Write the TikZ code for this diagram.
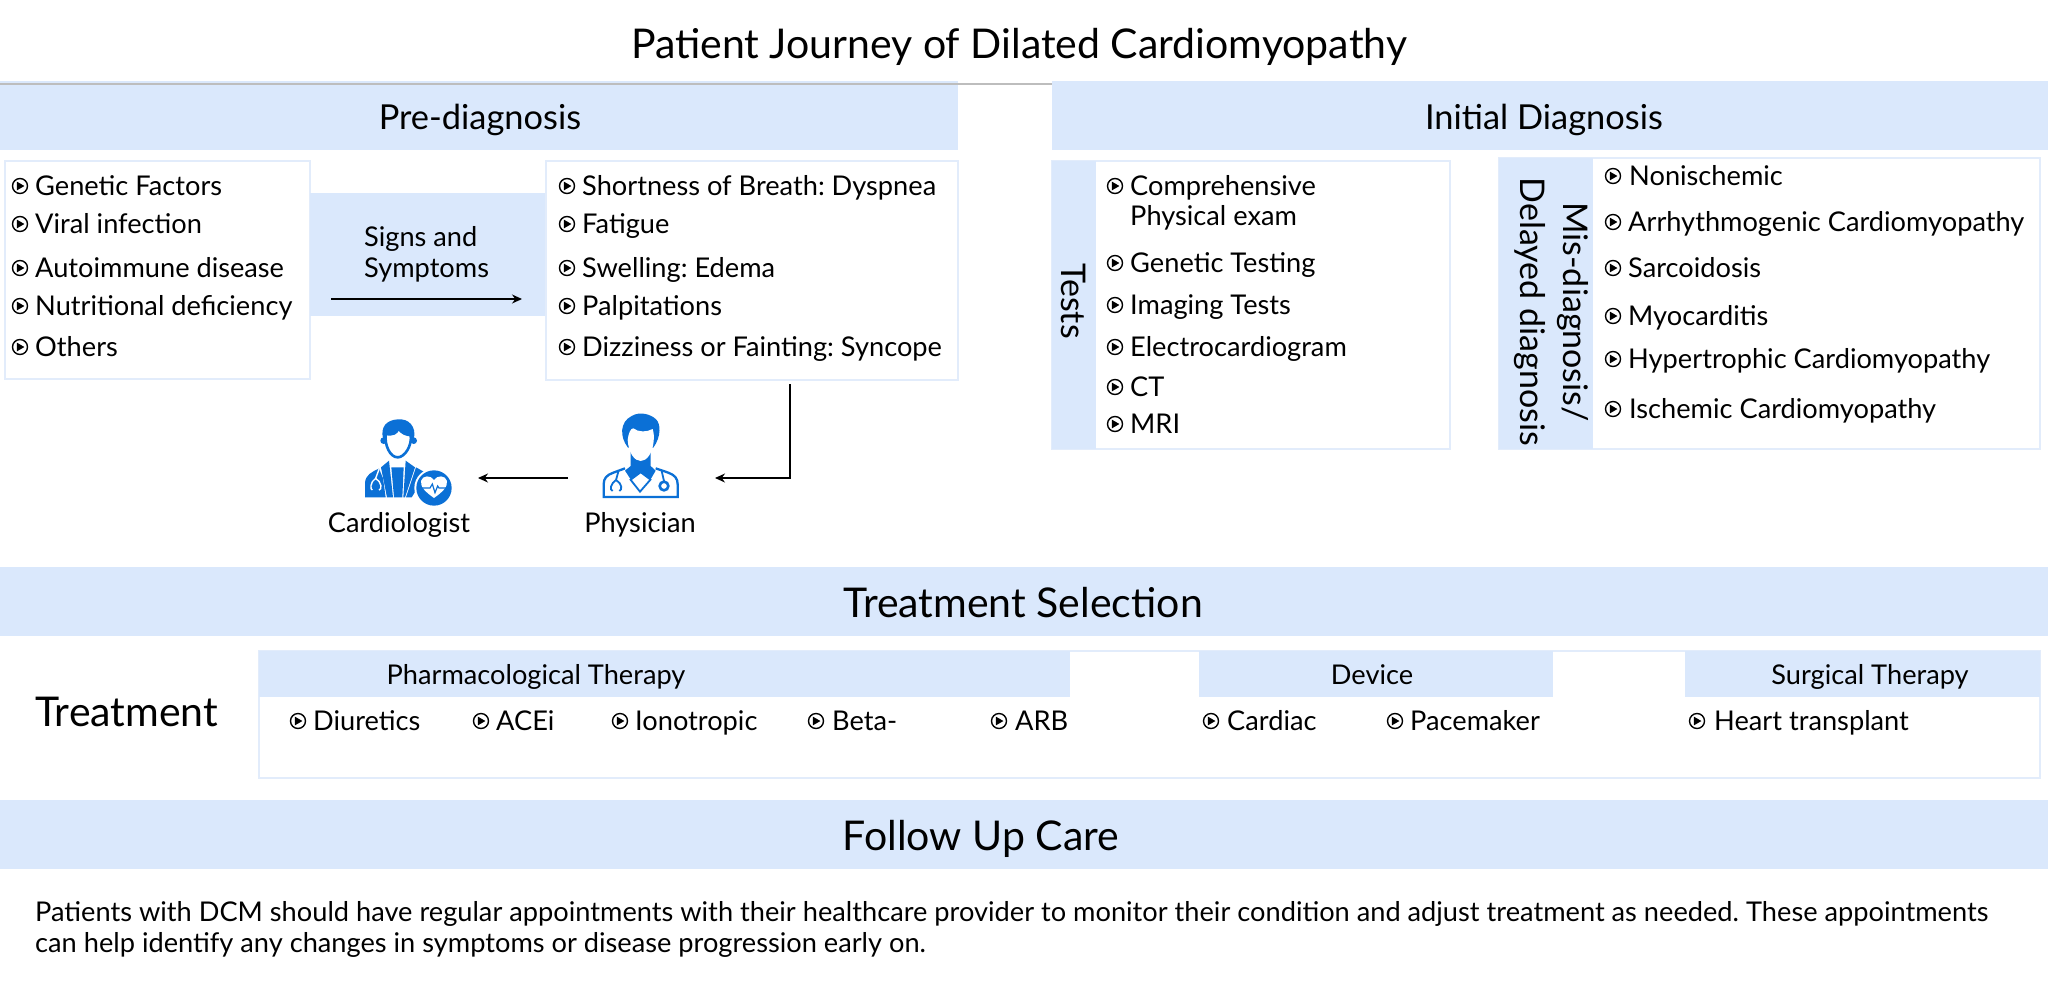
\documentclass[tikz,border=0pt]{standalone}
\usepackage{fontspec}
\setmainfont{Lato}
\usetikzlibrary{arrows.meta,calc}
\definecolor{band}{HTML}{DAE8FC}
\definecolor{edge}{HTML}{E2ECFB}
\definecolor{iconblue}{HTML}{0B70D6}
\definecolor{rule}{HTML}{BDBDBD}
\newcommand{\rbox}[6]{\node[#1,anchor=north west,minimum width=#5pt-#3pt,minimum height=#6pt-#4pt] (#2) at (#3,#4) {};}
\newcommand{\itm}[5]{%
  \node[bulletdot] (#1b) at (#2,#3) {};
  \fill ($(#2,#3)+(-3.2,-4.4)$) -- ($(#2,#3)+(4.4,0)$) -- ($(#2,#3)+(-3.2,4.4)$) -- cycle;
  \node[itemtext] (#1) at (#4,#3) {#5};}
\tikzset{
  fillband/.style={fill=band,draw=none,inner sep=0pt,outer sep=0pt},
  panel/.style={fill=white,draw=edge,line width=1.3pt,inner sep=0pt,outer sep=0pt},
  bulletdot/.style={circle,draw=black,fill=white,line width=1.4pt,minimum size=15pt,inner sep=0pt},
  itemtext/.style={anchor=mid west,inner sep=0pt,yshift=-7pt,font=\fontsize{27.2}{32}\selectfont},
  headtext/.style={anchor=mid,inner sep=0pt,yshift=-10pt,font=\fontsize{34.4}{41}\selectfont},
  bigtext/.style={anchor=mid,inner sep=0pt,yshift=-11.5pt,font=\fontsize{41}{49}\selectfont},
  subtext/.style={anchor=mid,inner sep=0pt,yshift=-7pt,font=\fontsize{27.2}{32}\selectfont},
  conn/.style={draw=black,line width=1.2pt,-{Stealth[length=10pt,width=9pt]}},
}
\begin{document}
\frenchspacing
\begin{tikzpicture}[x=1pt,y=-1pt]
\useasboundingbox (0,0) rectangle (2048,986);
\fill[white] (0,0) rectangle (2048,986);
% title
\node[bigtext] (title) at (1019,44) {Patient Journey of Dilated Cardiomyopathy};
% section bands
\rbox{fillband}{preband}{0}{81}{958}{150}
\rbox{fillband}{initband}{1052}{81}{2048}{150}
\rbox{fillband}{treatband}{0}{567}{2048}{636}
\rbox{fillband}{followband}{0}{800}{2048}{869}
\coordinate (ruleA) at (0,84); \coordinate (ruleB) at (1052,84);
\draw[rule,line width=1.5pt] (ruleA) -- (ruleB);
\node[headtext] (prelabel) at (480,117) {Pre-diagnosis};
\node[headtext] (initlabel) at (1544,117) {Initial Diagnosis};
\node[bigtext] (treatlabel) at (1023,603) {Treatment Selection};
\node[bigtext] (followlabel) at (981,836) {Follow Up Care};
% pre-diagnosis
\rbox{panel}{causes}{5}{161}{310}{379}
\rbox{fillband}{signband}{310}{193}{546}{316}
\rbox{panel}{signs}{546}{161}{958}{380}
\itm{c1}{20}{186}{35}{Genetic Factors}
\itm{c2}{20}{224}{35}{Viral infection}
\itm{c3}{20}{268}{35}{Autoimmune disease}
\itm{c4}{20}{306}{35}{Nutritional deficiency}
\itm{c5}{20}{347}{35}{Others}
\itm{s1}{567}{186}{582}{Shortness of Breath: Dyspnea}
\itm{s2}{567}{224}{582}{Fatigue}
\itm{s3}{567}{268}{582}{Swelling: Edema}
\itm{s4}{567}{306}{582}{Palpitations}
\itm{s5}{567}{347}{582}{Dizziness or Fainting: Syncope}
\node[itemtext] (signlabelA) at (364,237) {Signs and};
\node[itemtext] (signlabelB) at (364,268) {Symptoms};
\coordinate (arrA) at (331,299); \coordinate (arrB) at (522,299);
\draw[conn] (arrA) -- (arrB);
% physician icon
\begin{scope}[shift={(590,405)},scale=1/3]
  \fill[iconblue] (114,128) .. controls (88,95) and (90,50) .. (125,33) .. controls (150,18) and (182,28) .. (197,42) .. controls (213,55) and (214,95) .. (190,128) -- cycle;
  \fill[iconblue] (122,140) -- (182,140) -- (182,183) -- (197,197) -- (180,226) -- (152,205) -- (124,226) -- (105,197) -- (122,183) -- cycle;
  \fill[white] (113,105) .. controls (115,85) and (122,70) .. (130,70) .. controls (145,82) and (170,82) .. (188,72) .. controls (192,85) and (192,95) .. (191,108) .. controls (188,145) and (170,168) .. (152,168) .. controls (134,168) and (116,145) .. (113,105) -- cycle;
  \draw[iconblue,line width=2.3pt,line join=miter] (105,190) -- (70,203) .. controls (50,210) and (41,220) .. (41,238) -- (41,276) -- (263,276) -- (263,238) .. controls (263,220) and (254,210) .. (235,203) -- (197,190);
  \draw[iconblue,line width=1.8pt] (120,222) -- (150,260) -- (183,222);
  \draw[iconblue,line width=1.8pt] (85,200) -- (78,225) .. controls (62,235) and (58,255) .. (68,258);
  \draw[iconblue,line width=1.8pt] (78,225) .. controls (96,235) and (98,255) .. (88,258);
  \draw[iconblue,line width=1.8pt] (215,198) -- (222,228);
  \draw[iconblue,line width=2.6pt] (222,243) circle (13);
\end{scope}
% cardiologist icon
\begin{scope}[shift={(355,410)},scale=1/3]
  \fill[iconblue] (84,85) .. controls (76,50) and (95,30) .. (128,28) .. controls (162,25) and (184,50) .. (177,85) -- cycle;
  \fill[iconblue] (86,92) circle (10);
  \fill[iconblue] (176,92) circle (10);
  \draw[iconblue,line width=2.6pt,fill=white] (92,72) .. controls (115,75) and (125,70) .. (130,55) .. controls (140,70) and (155,75) .. (167,75) .. controls (172,105) and (150,142) .. (128,142) .. controls (105,142) and (88,105) .. (92,72) -- cycle;
  \fill[iconblue] (30,262) -- (30,218) .. controls (32,195) and (50,185) .. (72,176) -- (84,205) -- (92,262) -- cycle;
  \fill[iconblue] (78,172) -- (102,152) -- (114,262) -- (96,262) -- cycle;
  \fill[iconblue] (109,172) -- (146,172) -- (142,262) -- (117,262) -- cycle;
  \fill[iconblue] (152,152) -- (180,172) -- (150,262) -- (145,262) -- cycle;
  \fill[iconblue] (183,172) -- (215,190) -- (170,262) -- (153,262) -- cycle;
  \draw[white,line width=1.4pt] (72,178) -- (62,205) .. controls (45,215) and (45,240) .. (52,240);
  \draw[white,line width=1.4pt] (62,205) .. controls (80,215) and (82,240) .. (72,240);
  \fill[white] (237,234) circle (59);
  \fill[iconblue] (237,234) circle (53);
  \fill[white] (237,264) .. controls (215,248) and (195,232) .. (198,213) .. controls (202,195) and (228,195) .. (237,210) .. controls (246,195) and (272,195) .. (276,213) .. controls (279,232) and (259,248) .. (237,264) -- cycle;
  \draw[iconblue,line width=1.2pt] (190,234) -- (225,234) -- (232,222) -- (240,248) -- (248,228) -- (252,234) -- (285,234);
\end{scope}
\node[subtext] (cardlabel) at (399,523) {Cardiologist};
\node[subtext] (physlabel) at (640,523) {Physician};
\coordinate (drop) at (790,384);
\coordinate (dropcorner) at (790,478);
\coordinate (physin) at (715,478);
\coordinate (physout) at (568,478);
\coordinate (cardin) at (478,478);
\draw[conn] (drop) -- (dropcorner) -- (physin);
\draw[conn] (physout) -- (cardin);
% tests
\rbox{panel}{testbox}{1052}{161}{1450}{449}
\rbox{fillband}{teststrip}{1052}{161}{1096}{449}
\node[rotate=-90,inner sep=0pt,font=\fontsize{34}{40}\selectfont] (testlabel) at (1074,301) {Tests};
\itm{t1}{1115}{186}{1130}{Comprehensive}
\node[itemtext] (t1b2) at (1130,216) {Physical exam};
\itm{t2}{1115}{263}{1130}{Genetic Testing}
\itm{t3}{1115}{305}{1130}{Imaging Tests}
\itm{t4}{1115}{347}{1130}{Electrocardiogram}
\itm{t5}{1115}{387}{1130}{CT}
\itm{t6}{1115}{424}{1130}{MRI}
% misdiagnosis
\rbox{panel}{misbox}{1499}{158}{2040}{449}
\rbox{fillband}{misstrip}{1499}{158}{1593}{449}
\node[rotate=-90,align=center,inner sep=0pt,font=\fontsize{34}{43}\selectfont] (mislabel) at (1551,312) {Mis-diagnosis/\\Delayed diagnosis};
\itm{m1}{1613}{176}{1629}{Nonischemic}
\itm{m2}{1613}{222}{1628}{Arrhythmogenic Cardiomyopathy}
\itm{m3}{1613}{268}{1628}{Sarcoidosis}
\itm{m4}{1613}{316}{1628}{Myocarditis}
\itm{m5}{1613}{359}{1628}{Hypertrophic Cardiomyopathy}
\itm{m6}{1613}{409}{1629}{Ischemic Cardiomyopathy}
% treatment
\node[bigtext,anchor=mid west] (treatment) at (35,712) {Treatment};
\rbox{panel}{treatbox}{259}{651}{2040}{778}
\rbox{fillband}{pharma}{259}{651}{1070}{697}
\rbox{fillband}{device}{1199}{651}{1553}{697}
\rbox{fillband}{surgical}{1685}{651}{2040}{697}
\node[subtext] (pharmalabel) at (536,675) {Pharmacological Therapy};
\node[subtext] (devicelabel) at (1372,675) {Device};
\node[subtext] (surglabel) at (1870,675) {Surgical Therapy};
\itm{d1}{298}{721}{313}{Diuretics}
\itm{d2}{481}{721}{496}{ACEi}
\itm{d3}{620}{721}{635}{Ionotropic}
\itm{d4}{816}{721}{832}{Beta-}
\itm{d5}{999}{721}{1015}{ARB}
\itm{e1}{1211}{721}{1227}{Cardiac}
\itm{e2}{1395}{721}{1410}{Pacemaker}
\itm{f1}{1697}{721}{1714}{Heart transplant}
% follow up
\node[itemtext] (paraA) at (35,912) {Patients with DCM should have regular appointments with their healthcare provider to monitor their condition and adjust treatment as needed. These appointments};
\node[itemtext] (paraB) at (35,943) {can help identify any changes in symptoms or disease progression early on.};
\end{tikzpicture}
\end{document}
